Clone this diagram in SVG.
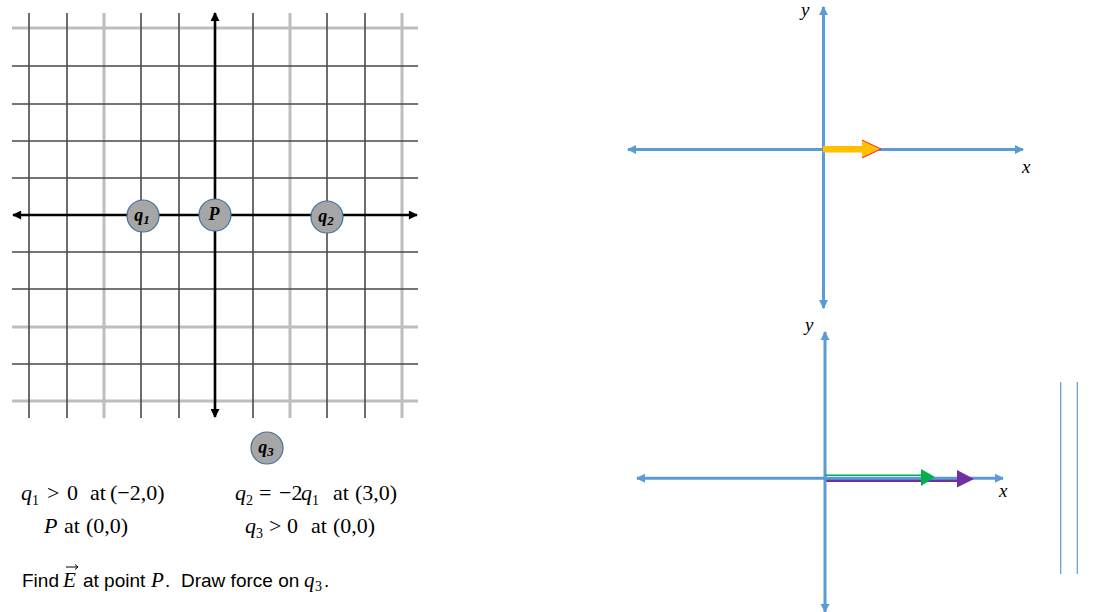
<svg xmlns="http://www.w3.org/2000/svg" width="1094" height="612" viewBox="0 0 1094 612">
<defs>
<style>
.gd{stroke:#4a4a4a;stroke-width:1.6;fill:none}
.gl{stroke:#bdbdbd;stroke-width:3;fill:none}
.ax{stroke:#000;stroke-width:2.6;fill:none}
.bax{stroke:#5b9bd5;stroke-width:3;fill:none}
.chg{fill:#a6a6a6;stroke:#41719c;stroke-width:1.2}
.cl{font-family:"Liberation Serif",serif;font-style:italic;font-weight:bold;font-size:18px;fill:#000}
.cs{font-size:13px}
.m{font-family:"Liberation Serif",serif;font-size:22px;fill:#000}
.i{font-style:italic}
.s{font-size:14px}
.lbl{font-family:"Liberation Serif",serif;font-style:italic;font-size:19px;fill:#000}
.t{font-family:"Liberation Sans",sans-serif;font-size:19px;fill:#000}
.ti{font-family:"Liberation Serif",serif;font-style:italic;font-size:21px}
</style>
<marker id="ka" viewBox="0 0 10 10" refX="9" refY="5" markerWidth="10" markerHeight="9" markerUnits="userSpaceOnUse" orient="auto-start-reverse">
<path d="M0,0 L10,5 L0,10 z" fill="#000"/>
</marker>
<marker id="ba" viewBox="0 0 10 10" refX="9" refY="5" markerWidth="9" markerHeight="10" markerUnits="userSpaceOnUse" orient="auto-start-reverse">
<path d="M0,0 L10,5 L0,10 z" fill="#5b9bd5"/>
</marker>
</defs>
<rect width="1094" height="612" fill="#fff"/>

<g id="grid">
<path class="gl" d="M104,13V418M290,13V418M402,13V418"/>
<path class="gl" d="M12,28H418M12,327H418M12,401H418"/>
<path class="gd" d="M29,13V418M67,13V418M141,13V418M179,13V418M253,13V418M327,13V418M365,13V418"/>
<path class="gd" d="M12,66H418M12,104H418M12,141H418M12,178H418M12,252H418M12,289H418M12,364H418"/>
</g>

<g id="connectors">
<line class="ax" x1="13" y1="215" x2="417" y2="215" marker-start="url(#ka)" marker-end="url(#ka)"/>
<line class="ax" x1="215" y1="13" x2="215" y2="417" marker-start="url(#ka)" marker-end="url(#ka)"/>
<line class="bax" x1="628" y1="149.5" x2="1023" y2="149.5" marker-start="url(#ba)" marker-end="url(#ba)"/>
<line class="bax" x1="823.5" y1="7" x2="823.5" y2="308" marker-start="url(#ba)" marker-end="url(#ba)"/>
<rect x="825" y="477" width="133" height="5" fill="#7030a0"/>
<line class="bax" x1="637" y1="478.3" x2="1003" y2="478.3" marker-start="url(#ba)" marker-end="url(#ba)"/>
<line class="bax" x1="825" y1="332" x2="825" y2="612" marker-start="url(#ba)" marker-end="url(#ba)"/>
<line x1="825" y1="475.3" x2="922" y2="475.3" stroke="#00b050" stroke-width="1.6"/>
<path d="M921,469 L935,477 L921,486 z" fill="#00b050"/>
<path d="M957,470 L974,479 L957,487.5 z" fill="#7030a0"/>
<rect x="823" y="146" width="40" height="6.5" fill="#ffc000"/>
<path d="M862,140 L881,149 L862,158 z" fill="#ffc000"/>
<path d="M862,140 L881,149 L862,158" fill="none" stroke="#ff2020" stroke-width="1"/>
<line x1="1060.7" y1="382" x2="1060.7" y2="574" stroke="#5b9bd5" stroke-width="1.2"/>
<line x1="1077.3" y1="382" x2="1077.3" y2="574" stroke="#5b9bd5" stroke-width="1.2"/>
</g>

<g id="q1"><circle class="chg" cx="143" cy="216" r="16"/><text class="cl" x="142" y="221" text-anchor="middle">q<tspan class="cs" dy="3">1</tspan></text></g>
<g id="P"><circle class="chg" cx="215" cy="215" r="16"/><text class="cl" x="214" y="220" text-anchor="middle">P</text></g>
<g id="q2"><circle class="chg" cx="327" cy="217" r="16"/><text class="cl" x="326" y="222" text-anchor="middle">q<tspan class="cs" dy="3">2</tspan></text></g>
<g id="q3"><circle class="chg" cx="267" cy="448" r="16"/><text class="cl" x="266" y="453" text-anchor="middle">q<tspan class="cs" dy="3">3</tspan></text></g>

<g id="labels">
<text class="lbl" x="801" y="16">y</text>
<text class="lbl" x="1022" y="173">x</text>
<text class="lbl" x="805" y="331">y</text>
<text class="lbl" x="999" y="497">x</text>
</g>

<g id="text">
<text class="m" y="500"><tspan class="i" x="21">q</tspan><tspan class="s" x="32" y="505">1</tspan><tspan x="47" y="500">&gt;</tspan><tspan x="67">0</tspan><tspan x="90">at</tspan><tspan x="110">(−2,0)</tspan></text>
<text class="m" y="500"><tspan class="i" x="235">q</tspan><tspan class="s" x="246" y="505">2</tspan><tspan x="259" y="500">=</tspan><tspan x="279">−2</tspan><tspan class="i" x="301">q</tspan><tspan class="s" x="312" y="505">1</tspan><tspan x="333" y="500">at</tspan><tspan x="355">(3,0)</tspan></text>
<text class="m" y="533"><tspan class="i" x="44">P</tspan><tspan x="64">at</tspan><tspan x="86">(0,0)</tspan></text>
<text class="m" y="533"><tspan class="i" x="245">q</tspan><tspan class="s" x="256" y="538">3</tspan><tspan x="269" y="533">&gt;</tspan><tspan x="287">0</tspan><tspan x="311">at</tspan><tspan x="333">(0,0)</tspan></text>
<text class="t" y="587"><tspan x="22">Find</tspan><tspan class="ti" x="63">E</tspan><tspan x="83">at point</tspan><tspan class="ti" x="151">P</tspan><tspan x="165">.</tspan><tspan x="181">Draw force on</tspan><tspan class="ti" x="304">q</tspan><tspan font-family="Liberation Serif" font-size="14" x="315" y="591">3</tspan><tspan x="324" y="587">.</tspan></text>
<path d="M66,567 H78 M75,564.5 L78,567 L75,569.5" fill="none" stroke="#000" stroke-width="1"/>
</g>
</svg>
